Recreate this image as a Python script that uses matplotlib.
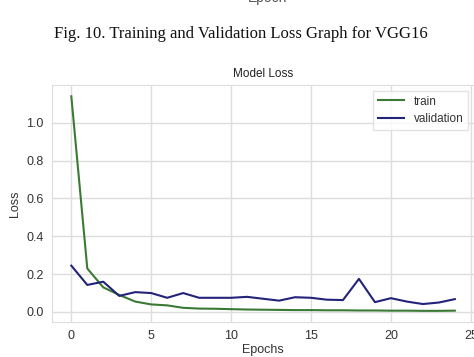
import matplotlib as mpl
mpl.use("agg")
import matplotlib.pyplot as plt

# loss values
epochs = list(range(25))
train = [1.14, 0.23, 0.13, 0.09, 0.055, 0.04, 0.035, 0.022, 0.018, 0.017, 0.015,
         0.013, 0.012, 0.011, 0.010, 0.010, 0.009, 0.009, 0.008, 0.008, 0.007,
         0.007, 0.006, 0.006, 0.007]
val = [0.245, 0.143, 0.16, 0.085, 0.105, 0.10, 0.075, 0.10, 0.075, 0.075, 0.075,
       0.08, 0.07, 0.06, 0.078, 0.075, 0.065, 0.063, 0.175, 0.052, 0.073,
       0.055, 0.042, 0.05, 0.068]
yticks = [0.0, 0.2, 0.4, 0.6, 0.8, 1.0]
xticks = [0, 5, 10, 15, 20, 25]

plt.rcParams['font.family'] = ['Liberation Sans', 'DejaVu Sans']

fig = plt.figure(figsize=(4.74, 3.57), dpi=100)

# clipped label from the figure above and the caption
fig.text(0.565, 1.005, "Epoch", ha='center', va='center', fontsize=10, color='#555555')
fig.text(0.508, 0.905, "Fig. 10. Training and Validation Loss Graph for VGG16",
         ha='center', va='center', fontsize=12, family='Liberation Serif', color='#111111')

ax = fig.add_axes([0.11, 0.098, 0.89, 0.664])
ax.plot(epochs, train, color='#3b7a35', lw=1.5, label='train')
ax.plot(epochs, val, color='#23237a', lw=1.5, label='validation')

ax.set_xlim(-1.2, 25.2)
ax.set_ylim(-0.053, 1.2)
ax.set_xticks(xticks)
ax.set_yticks(yticks)
ax.grid(color='#dddddd', lw=1)
ax.set_axisbelow(True)
for s in ax.spines.values():
    s.set_color('#dddddd')
ax.tick_params(length=0, labelsize=9, labelcolor='#333333', pad=6)

ax.set_title("Model Loss", fontsize=8.5, color='#222222', pad=6)
ax.set_xlabel("Epochs", fontsize=9, color='#333333', labelpad=1)
ax.set_ylabel("Loss", fontsize=9, color='#333333', labelpad=4)
leg = ax.legend(loc='upper right', fontsize=8.5, frameon=True, fancybox=False,
                edgecolor='#dddddd', borderpad=0.4, handlelength=2.2)
for t in leg.get_texts():
    t.set_color('#333333')

fig.savefig("out.png", dpi=100)
